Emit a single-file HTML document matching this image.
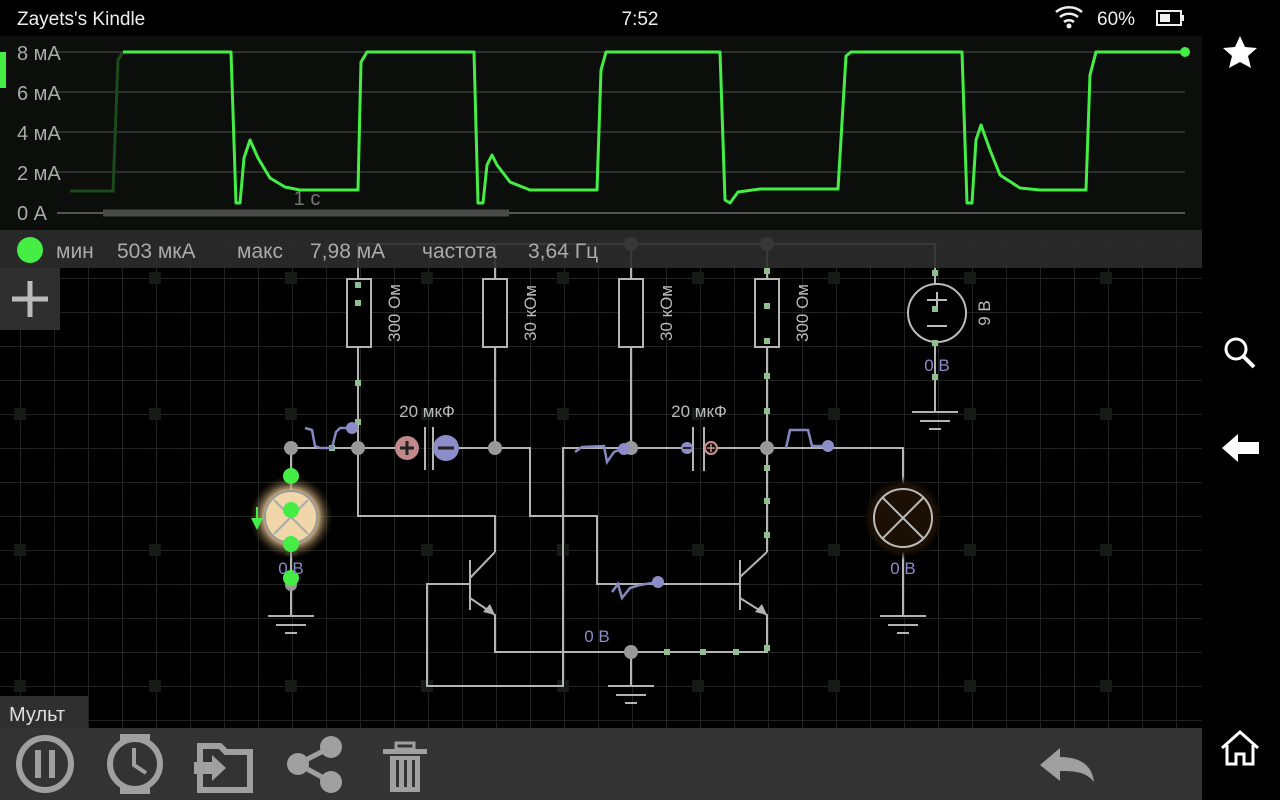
<!DOCTYPE html>
<html><head><meta charset="utf-8"><style>
html,body{margin:0;padding:0;background:#000;width:1280px;height:800px;overflow:hidden}
svg{display:block}
text{font-family:"Liberation Sans","DejaVu Sans",sans-serif}
</style></head><body>
<svg width="1280" height="800" viewBox="0 0 1280 800" xmlns="http://www.w3.org/2000/svg">
<defs>
<pattern id="g" x="20" y="6" width="34" height="34" patternUnits="userSpaceOnUse">
<path d="M0 0V34M0 0H34" stroke="#1f2420" stroke-width="2" fill="none"/>
</pattern>
<radialGradient id="glow"><stop offset="0" stop-color="#ffe6b0"/><stop offset="0.6" stop-color="#f0d0a0"/><stop offset="1" stop-color="#3a2a10" stop-opacity="0"/></radialGradient>
<radialGradient id="glow2"><stop offset="0" stop-color="#2a1a05"/><stop offset="0.8" stop-color="#1a1005"/><stop offset="1" stop-color="#000" stop-opacity="0"/></radialGradient>
</defs>
<rect width="1280" height="800" fill="#000"/>
<rect x="0" y="230" width="1202" height="570" fill="url(#g)"/>
<g fill="#151a16">
<g id="mr"><rect x="14" y="272" width="12" height="12"/><rect x="149" y="272" width="12" height="12"/><rect x="285" y="272" width="12" height="12"/><rect x="421" y="272" width="12" height="12"/><rect x="557" y="272" width="12" height="12"/><rect x="692" y="272" width="12" height="12"/><rect x="828" y="272" width="12" height="12"/><rect x="964" y="272" width="12" height="12"/><rect x="1100" y="272" width="12" height="12"/></g>
<use href="#mr" y="136"/><use href="#mr" y="272"/><use href="#mr" y="408"/>
</g>

<g stroke="#b4b4b4" stroke-width="2" fill="none">
<path d="M358 244H935V412"/>
<path d="M358 244V448M495 244V448M631 244V448M767 244V552"/>
<rect x="347" y="279" width="24" height="68" fill="#000"/>
<rect x="483" y="279" width="24" height="68" fill="#000"/>
<rect x="619" y="279" width="24" height="68" fill="#000"/>
<rect x="755" y="279" width="24" height="68" fill="#000"/>
<path d="M291 448H395M458 448H530V516H597V584H740"/>
<path d="M631 448H563V686H427V584H470"/>
<path d="M358 448V516H495V552"/>
<path d="M291 448V616"/>
<path d="M631 448H681M717 448H903V488M903 548V616"/>
<path d="M425 427V470M433 427V470M693 427V471M704 427V471"/>
<path d="M470 560V610M470 578L495 552M470 598L495 615V652H767V615L740 598M740 560V610M740 577L767 552"/>
<path d="M631 652V686"/>
<path d="M268 616H314M276 625H306M285 633H297"/>
<path d="M608 686H654M616 695H646M625 703H637"/>
<path d="M880 616H926M888 625H918M897 633H909"/>
<path d="M912 412H958M920 421H950M929 429H941"/>
</g>
<path d="M495 615l-12-3 7-8z" fill="#b4b4b4"/>
<path d="M767 615l-12-3 7-8z" fill="#b4b4b4"/>
<circle cx="937" cy="313" r="29" fill="#000" stroke="#bbb" stroke-width="2"/>
<path d="M927 300H947M937 292V308M927 326H947" stroke="#bbb" stroke-width="2"/>
<circle cx="903" cy="518" r="42" fill="url(#glow2)"/>
<circle cx="903" cy="518" r="29" fill="#1c1005" stroke="#bbb" stroke-width="2"/>
<path d="M883 498L923 538M923 498L883 538" stroke="#bbb" stroke-width="2"/>
<circle cx="291" cy="517" r="42" fill="url(#glow)"/>
<circle cx="291" cy="517" r="26" fill="#f0d6a8" stroke="#999" stroke-width="2"/>
<path d="M274 500L308 534M308 500L274 534" stroke="#aaa" stroke-width="2"/>
<g fill="#8fbf8f">
<rect x="355" y="282" width="6" height="6"/><rect x="355" y="300" width="6" height="6"/><rect x="355" y="380" width="6" height="6"/><rect x="355" y="419" width="6" height="6"/><rect x="329" y="445" width="6" height="6"/>
<rect x="764" y="268" width="6" height="6"/><rect x="764" y="303" width="6" height="6"/><rect x="764" y="338" width="6" height="6"/><rect x="764" y="373" width="6" height="6"/><rect x="764" y="408" width="6" height="6"/><rect x="764" y="465" width="6" height="6"/><rect x="764" y="498" width="6" height="6"/><rect x="764" y="532" width="6" height="6"/>
<rect x="932" y="270" width="6" height="6"/><rect x="932" y="306" width="6" height="6"/><rect x="932" y="340" width="6" height="6"/><rect x="932" y="374" width="6" height="6"/>
<rect x="664" y="649" width="6" height="6"/><rect x="700" y="649" width="6" height="6"/><rect x="733" y="649" width="6" height="6"/><rect x="764" y="645" width="6" height="6"/>
</g>
<g fill="#999">
<circle cx="291" cy="448" r="7"/><circle cx="358" cy="448" r="7"/><circle cx="495" cy="448" r="7"/><circle cx="631" cy="448" r="7"/><circle cx="767" cy="448" r="7"/><circle cx="631" cy="652" r="7"/><circle cx="631" cy="244" r="7"/><circle cx="767" cy="244" r="7"/><circle cx="291" cy="585" r="6"/>
</g>
<circle cx="407" cy="448" r="12" fill="#c08888"/><path d="M400 448H414M407 441V455" stroke="#222" stroke-width="3"/>
<circle cx="446" cy="448" r="13" fill="#8c8cc8"/><path d="M438 448H454" stroke="#222" stroke-width="3"/>
<circle cx="687" cy="448" r="6" fill="#8c8cc8"/><path d="M683 448H691" stroke="#222" stroke-width="2"/>
<circle cx="711" cy="448" r="6" fill="none" stroke="#d09090" stroke-width="2"/><path d="M707 448H715M711 444V452" stroke="#d09090" stroke-width="1.5"/>
<g stroke="#8888c0" stroke-width="2.5" fill="none">
<path d="M305 428L312 430L315 446L320 448L332 448L336 432L340 428L352 428"/>
<path d="M575 452L582 447L604 446L607 462L614 452L624 448"/>
<path d="M612 592L618 584L622 598L630 588L640 585L658 582"/>
<path d="M786 448L790 430L808 430L812 446L828 446"/>
</g>
<g fill="#8c8cc8"><circle cx="352" cy="428" r="6"/><circle cx="624" cy="449" r="6"/><circle cx="658" cy="582" r="6"/><circle cx="828" cy="446" r="6"/></g>
<g fill="#44ee44"><circle cx="291" cy="476" r="8"/><circle cx="291" cy="510" r="8"/><circle cx="291" cy="544" r="8"/><circle cx="291" cy="578" r="8"/></g>
<path d="M257 507V520" stroke="#44ee44" stroke-width="2"/><path d="M251 518L263 518L257 530z" fill="#44ee44"/>
<g fill="#bbb" font-size="17">
<text x="427" y="417" text-anchor="middle">20 мкФ</text>
<text x="699" y="417" text-anchor="middle">20 мкФ</text>
<text transform="translate(400 313) rotate(-90)" text-anchor="middle">300 Ом</text>
<text transform="translate(536 313) rotate(-90)" text-anchor="middle">30 кОм</text>
<text transform="translate(672 313) rotate(-90)" text-anchor="middle">30 кОм</text>
<text transform="translate(808 313) rotate(-90)" text-anchor="middle">300 Ом</text>
<text transform="translate(990 313) rotate(-90)" text-anchor="middle">9 В</text>
</g>
<g fill="#8c8cc8" font-size="17" text-anchor="middle">
<text x="291" y="574">0 В</text><text x="597" y="642">0 В</text><text x="903" y="574">0 В</text><text x="937" y="371">0 В</text>
</g>

<rect x="0" y="36" width="1202" height="194" fill="#0b0e0b"/>
<g stroke="#2c302c" stroke-width="2"><path d="M57 52H1185M57 92H1185M57 132H1185M57 172H1185"/></g>
<path d="M57 213H1185" stroke="#555" stroke-width="2"/>
<path d="M103 213H509" stroke="#4a4a4a" stroke-width="7"/>
<text x="307" y="205" fill="#777" font-size="20" text-anchor="middle">1 с</text>
<rect x="0" y="52" width="6" height="36" fill="#44ee44"/>
<g fill="#aaa" font-size="20"><text x="17" y="60">8 мА</text><text x="17" y="100">6 мА</text><text x="17" y="140">4 мА</text><text x="17" y="180">2 мА</text><text x="17" y="220">0 А</text></g>
<path d="M70 191H113L118 60L123 52" stroke="#1c4a1c" stroke-width="3" fill="none"/>
<path d="M123 52H231L236 203H240L244 158L250 140L258 158L270 178L285 187L300 190H358L361 62L367 52H474L478 203H483L487 165L492 155L497 165L510 182L530 190H597L601 70L606 52H720L725 200L730 203L738 192L760 189H838L846 56L851 52H962L967 203H972L976 140L981 125L990 150L1000 175L1020 188L1040 190H1086L1090 75L1096 52H1185" stroke="#44ee44" stroke-width="3" fill="none" stroke-linejoin="round"/>
<circle cx="1185" cy="52" r="5" fill="#44ee44"/>

<rect x="0" y="230" width="1202" height="38" fill="#2b2c2b" fill-opacity="0.9"/>
<circle cx="30" cy="250" r="13" fill="#44ee44"/>
<g fill="#aaa" font-size="21"><text x="56" y="258">мин</text><text x="117" y="258">503 мкА</text><text x="237" y="258">макс</text><text x="310" y="258">7,98 мА</text><text x="422" y="258">частота</text><text x="528" y="258">3,64 Гц</text></g>
<rect x="0" y="268" width="60" height="62" fill="#2e2f2e"/>
<path d="M12 299H48M30 281V317" stroke="#bbb" stroke-width="5"/>

<rect x="0" y="0" width="1202" height="36" fill="#000"/>
<text x="17" y="25" fill="#eee" font-size="19">Zayets's Kindle</text>
<text x="640" y="25" fill="#eee" font-size="19" text-anchor="middle">7:52</text>
<g fill="none" stroke="#eee" stroke-width="2.5"><path d="M1056 12a20 20 0 0 1 26 0M1060 17a14 14 0 0 1 18 0M1064 22a8 8 0 0 1 10 0"/></g>
<circle cx="1069" cy="26" r="2.5" fill="#eee"/>
<text x="1097" y="25" fill="#eee" font-size="19">60%</text>
<rect x="1157" y="11" width="24" height="14" fill="none" stroke="#eee" stroke-width="2"/><rect x="1181" y="15" width="3" height="6" fill="#eee"/><rect x="1160" y="14" width="10" height="8" fill="#eee"/>

<rect x="1202" y="0" width="78" height="800" fill="#000"/>
<path d="M1240 36l5 11 12 1-9 8 3 12-11-6-11 6 3-12-9-8 12-1z" fill="#fff"/>
<circle cx="1236" cy="349" r="10" fill="none" stroke="#fff" stroke-width="3"/><path d="M1243 356L1254 367" stroke="#fff" stroke-width="4"/>
<path d="M1222 448L1238 434V442H1259V454H1238V462z" fill="#fff"/>
<path d="M1222 748L1240 732L1258 748M1227 745V764H1236V754H1244V764H1253V745" fill="none" stroke="#fff" stroke-width="3"/>

<rect x="0" y="696" width="88" height="32" fill="#2e2f2e"/>
<text x="9" y="721" fill="#ddd" font-size="20">Мульт</text>
<rect x="0" y="728" width="1202" height="72" fill="#333"/>
<g fill="#a0a0a0" stroke="#a0a0a0">
<circle cx="45" cy="764" r="26" fill="none" stroke-width="6"/><rect x="35" y="750" width="6" height="28" stroke="none"/><rect x="49" y="750" width="6" height="28" stroke="none"/>
<rect x="120" y="734" width="30" height="8" stroke="none"/><rect x="120" y="786" width="30" height="8" stroke="none"/>
<circle cx="135" cy="764" r="25" fill="none" stroke-width="6"/><path d="M134 748V765L146 773" fill="none" stroke-width="4"/>
<path d="M200 750V790H250V752H226L220 746H200z" fill="none" stroke-width="6"/><path d="M194 762H212V755L226 768L212 781V774H194z" stroke="none"/>
<circle cx="331" cy="747" r="11" stroke="none"/><circle cx="331" cy="782" r="11" stroke="none"/><circle cx="298" cy="764" r="11" stroke="none"/><path d="M298 764L331 747M298 764L331 782" stroke-width="5"/>
<rect x="383" y="749" width="44" height="5" stroke="none"/><rect x="396" y="743" width="18" height="6" fill="none" stroke-width="3"/>
<path d="M390 756H420V792H390z" stroke="none"/>
</g>
<g fill="#333"><rect x="396" y="760" width="3" height="27"/><rect x="404" y="760" width="3" height="27"/><rect x="412" y="760" width="3" height="27"/></g>
<path d="M1040 765L1060 748V757C1080 757 1092 765 1094 782C1086 772 1076 771 1060 771V781z" fill="#a0a0a0"/>
</svg>
</body></html>
